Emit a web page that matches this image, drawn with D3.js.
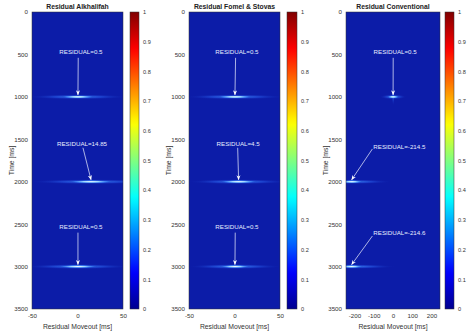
<!DOCTYPE html>
<html>
<head>
<meta charset="utf-8">
<script src="https://cdn.jsdelivr.net/npm/d3@7"></script>
<style>
  html, body { margin: 0; padding: 0; background: #fff; }
  svg { display: block; font-family: "Liberation Sans", Arial, sans-serif; }
</style>
</head>
<body>
<svg id="chart" width="474" height="335"></svg>
<script>
// Panel titles and axes
const titles = ["Residual Alkhalifah", "Residual Fomel & Stovas", "Residual Conventional"];
const xDomains = [[-50, 50], [-50, 50], [-244, 244]];
const xTicks = [[-50, 0, 50], [-50, 0, 50], [-200, -100, 0, 100, 200]];
const timeDomain = [0, 3500];
const timeTicks = [0, 500, 1000, 1500, 2000, 2500, 3000, 3500];
const colorTicks = [0, 0.1, 0.2, 0.3, 0.4, 0.5, 0.6, 0.7, 0.8, 0.9, 1];

// Focused events: time (ms) and residual moveout (ms) per panel
const eventTimes = [1000, 2000, 3000];
const residuals = [
  [0.5, 14.85, 0.5],
  [0.5, 4.5, 0.5],
  [0.5, -214.5, -214.6]
];
const residualLabels = [
  ["RESIDUAL=0.5", "RESIDUAL=14.85", "RESIDUAL=0.5"],
  ["RESIDUAL=0.5", "RESIDUAL=4.5", "RESIDUAL=0.5"],
  ["RESIDUAL=0.5", "RESIDUAL=-214.5", "RESIDUAL=-214.6"]
];
// Energy spread of each event (ms): bright core and faint halo
const coreHalfWidth = [[19, 25, 22], [20, 21, 17], [32, 60, 60]];
const haloHalfWidth = [[55, 68, 58], [55, 56, 52], [70, 210, 230]];
const coreHalfHeight = [[20, 20, 20], [20, 20, 20], [20, 20, 20]];
const haloHalfHeight = [[30, 30, 30], [30, 30, 30], [30, 28, 28]];
const verticalHalo = [[0, 0, 0], [0, 0, 0], [110, 0, 0]];

// Annotation placement (residual ms, time ms) for label and arrow start
const labelPos = [
  [[3.8, 471], [5, 1555], [3.8, 2532]],
  [[2.7, 471], [4, 1555], [2.7, 2532]],
  [[11, 471], [33, 1587], [33, 2600]]
];
const arrowStart = [
  [[0.8, 540], [6, 1600], [0.5, 2600]],
  [[1.2, 540], [3.5, 1600], [0.8, 2600]],
  [[1, 540], [-107, 1614], [-107, 2640]]
];

// Layout
const plotX = [[32, 123], [189, 280], [346, 440]];
const cbX = [[130, 139], [287, 297], [445, 454]];
const plotTop = 12, plotBottom = 309;

const jet = d3.scaleLinear()
  .domain([0, 0.125, 0.375, 0.625, 0.875, 1])
  .range(["#00008f", "#0000ff", "#00ffff", "#ffff00", "#ff0000", "#800000"]);
const bgColor = "#0c1ca8";

const svg = d3.select("#chart");
const defs = svg.append("defs");

// Colorbar gradient (bottom = 0, top = 1)
const cbGrad = defs.append("linearGradient").attr("id", "jetGrad")
  .attr("x1", 0).attr("y1", 1).attr("x2", 0).attr("y2", 0);
d3.range(0, 1.0001, 0.02).forEach(v => {
  cbGrad.append("stop").attr("offset", v).attr("stop-color", jet(v));
});

// Gradients for event energy
const coreGrad = defs.append("radialGradient").attr("id", "coreGrad");
coreGrad.append("stop").attr("offset", 0).attr("stop-color", "#f4fbff").attr("stop-opacity", 1);
coreGrad.append("stop").attr("offset", 0.35).attr("stop-color", "#9fdcff").attr("stop-opacity", 0.95);
coreGrad.append("stop").attr("offset", 0.7).attr("stop-color", "#3f8cff").attr("stop-opacity", 0.55);
coreGrad.append("stop").attr("offset", 1).attr("stop-color", bgColor).attr("stop-opacity", 0);
const haloGrad = defs.append("radialGradient").attr("id", "haloGrad");
haloGrad.append("stop").attr("offset", 0).attr("stop-color", "#4aa8ff").attr("stop-opacity", 0.85);
haloGrad.append("stop").attr("offset", 0.5).attr("stop-color", "#2a62f0").attr("stop-opacity", 0.5);
haloGrad.append("stop").attr("offset", 1).attr("stop-color", bgColor).attr("stop-opacity", 0);

const marker = defs.append("marker").attr("id", "arrowHead")
  .attr("viewBox", "0 0 10 10").attr("refX", 9).attr("refY", 5)
  .attr("markerWidth", 5).attr("markerHeight", 5).attr("orient", "auto")
  .attr("markerUnits", "userSpaceOnUse");
marker.append("path").attr("d", "M0,1 L10,5 L0,9 L3,5 Z").attr("fill", "#ffffff");

const y = d3.scaleLinear().domain(timeDomain).range([plotTop, plotBottom]);
const plainNumber = d => String(d);

titles.forEach((title, p) => {
  const x = d3.scaleLinear().domain(xDomains[p]).range(plotX[p]);
  const g = svg.append("g");

  const clipId = "clip" + p;
  defs.append("clipPath").attr("id", clipId).append("rect")
    .attr("x", plotX[p][0]).attr("y", plotTop)
    .attr("width", plotX[p][1] - plotX[p][0]).attr("height", plotBottom - plotTop);

  // Image background
  g.append("rect")
    .attr("x", plotX[p][0]).attr("y", plotTop)
    .attr("width", plotX[p][1] - plotX[p][0]).attr("height", plotBottom - plotTop)
    .attr("fill", bgColor);

  const field = g.append("g").attr("clip-path", `url(#${clipId})`);
  eventTimes.forEach((t, i) => {
    const cx = x(residuals[p][i]);
    const cy = y(t);
    const kx = Math.abs(x(1) - x(0));
    const ky = y(1) - y(0);
    field.append("ellipse")
      .attr("cx", cx).attr("cy", cy)
      .attr("rx", haloHalfWidth[p][i] * kx).attr("ry", haloHalfHeight[p][i] * ky)
      .attr("fill", "url(#haloGrad)");
    if (verticalHalo[p][i] > 0) {
      field.append("ellipse")
        .attr("cx", cx).attr("cy", cy)
        .attr("rx", 6 * kx).attr("ry", verticalHalo[p][i] * ky)
        .attr("fill", "url(#haloGrad)").attr("opacity", 0.7);
    }
    field.append("ellipse")
      .attr("cx", cx).attr("cy", cy)
      .attr("rx", coreHalfWidth[p][i] * kx).attr("ry", coreHalfHeight[p][i] * ky)
      .attr("fill", "url(#coreGrad)");

    // Annotation
    const lp = labelPos[p][i];
    g.append("text")
      .attr("x", x(lp[0])).attr("y", y(lp[1]))
      .attr("text-anchor", "middle").attr("dominant-baseline", "central")
      .attr("font-size", 6.2).attr("fill", "#e8eeff")
      .text(residualLabels[p][i]);
    const as = arrowStart[p][i];
    g.append("line")
      .attr("x1", x(as[0])).attr("y1", y(as[1]))
      .attr("x2", cx).attr("y2", cy - 2)
      .attr("stroke", "#f0f4ff").attr("stroke-width", 0.7)
      .attr("marker-end", "url(#arrowHead)");
  });

  // Frame
  g.append("rect")
    .attr("x", plotX[p][0]).attr("y", plotTop)
    .attr("width", plotX[p][1] - plotX[p][0]).attr("height", plotBottom - plotTop)
    .attr("fill", "none").attr("stroke", "#333").attr("stroke-width", 0.5);

  // Axes
  const xAxis = g.append("g").attr("transform", `translate(0,${plotBottom})`)
    .call(d3.axisBottom(x).tickValues(xTicks[p]).tickFormat(plainNumber).tickSize(0).tickPadding(5));
  const yAxis = g.append("g").attr("transform", `translate(${plotX[p][0]},0)`)
    .call(d3.axisLeft(y).tickValues(timeTicks).tickFormat(plainNumber).tickSize(0).tickPadding(4));
  [xAxis, yAxis].forEach(a => {
    a.select(".domain").remove();
    a.selectAll("text").attr("font-size", 6.2).attr("fill", "#333")
      .attr("font-family", "Liberation Sans, Arial, sans-serif");
  });

  g.append("text")
    .attr("x", (plotX[p][0] + plotX[p][1]) / 2).attr("y", 329)
    .attr("text-anchor", "middle").attr("font-size", 6.8).attr("fill", "#333")
    .text("Residual Moveout [ms]");
  g.append("text")
    .attr("transform", `translate(${plotX[p][0] - 18},${(plotTop + plotBottom) / 2}) rotate(-90)`)
    .attr("text-anchor", "middle").attr("font-size", 6.8).attr("fill", "#333")
    .text("Time [ms]");
  g.append("text")
    .attr("x", (plotX[p][0] + plotX[p][1]) / 2).attr("y", 9)
    .attr("text-anchor", "middle").attr("font-size", 6.8).attr("font-weight", "bold")
    .attr("fill", "#222")
    .text(title);

  // Colorbar
  const c = d3.scaleLinear().domain([0, 1]).range([plotBottom, plotTop]);
  g.append("rect")
    .attr("x", cbX[p][0]).attr("y", plotTop)
    .attr("width", cbX[p][1] - cbX[p][0]).attr("height", plotBottom - plotTop)
    .attr("fill", "url(#jetGrad)").attr("stroke", "#333").attr("stroke-width", 0.5);
  const cAxis = g.append("g").attr("transform", `translate(${cbX[p][1]},0)`)
    .call(d3.axisRight(c).tickValues(colorTicks).tickFormat(plainNumber).tickSize(0).tickPadding(4));
  cAxis.select(".domain").remove();
  cAxis.selectAll("text").attr("font-size", 5.6).attr("fill", "#333")
    .attr("font-family", "Liberation Sans, Arial, sans-serif");
});
</script>
</body>
</html>
